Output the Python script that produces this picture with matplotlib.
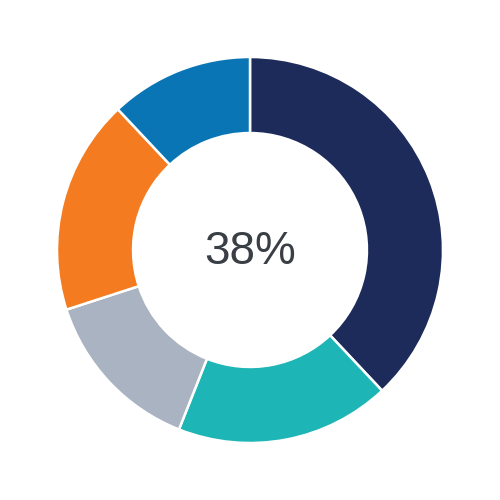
"""
donut chart, 38% in the centre
"""

import matplotlib
matplotlib.use('Agg')
from matplotlib import pyplot as plt

shares = [38, 18, 14, 18, 12]
colors = ['#1c2b5a', '#1db5b6', '#a9b3c1', '#f47b20', '#0a75b4']
center_label = '38%'

fig = plt.figure(figsize=(5, 5), dpi=100)
ax = fig.add_axes([0, 0, 1, 1])
ax.pie(shares, colors=colors, startangle=90, counterclock=False,
       radius=1.0,
       wedgeprops=dict(width=0.394, edgecolor='white', linewidth=1.8))
lim = 250 / 193
ax.set_xlim(-lim, lim)
ax.set_ylim(-lim, lim)
ax.set_aspect('equal')
ax.axis('off')
ax.text(0, -0.01, center_label, ha='center', va='center', fontsize=33,
        color='#3a3f45', family=['Liberation Sans', 'DejaVu Sans'])

fig.savefig('out.png', dpi=100, facecolor='white')
